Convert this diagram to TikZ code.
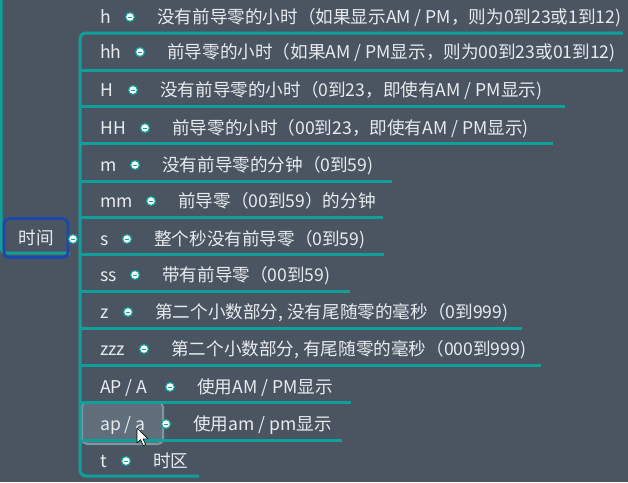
\documentclass[tikz,border=0pt]{standalone}
\usepackage{fontspec}
\setmainfont{Noto Sans CJK SC}
\definecolor{bg}{RGB}{75,85,98}
\definecolor{tealb}{RGB}{16,160,156}
\definecolor{txt}{RGB}{232,235,238}
\definecolor{rootblue}{RGB}{28,72,172}
\definecolor{selfill}{RGB}{112,128,142}
\definecolor{selborder}{RGB}{130,148,160}
\newcommand\mmrow[8]{%
  \node[lbl] (l#1) at (100,#5) {#2};
  \node[bullet] (d#1) at (#3,#5) {};
  \node[lbl] (t#1) at (#4,#5) {#8};
  \coordinate (u#1) at (80,#6);
  \coordinate (e#1) at (#7,#6);
}
\begin{document}
\begin{tikzpicture}[x=1pt,y=-1pt,
  lbl/.style={anchor=west, inner sep=0pt, text=txt, font=\fontsize{17.6}{20}\selectfont, text height=14pt, text depth=2pt},
  bullet/.style={circle, draw=tealb, line width=1.2pt, fill=white, minimum size=9pt, inner sep=0pt,
    path picture={\draw[tealb, line width=0.8pt] ([xshift=-1.6pt]path picture bounding box.center) -- ([xshift=1.6pt]path picture bounding box.center);}},
  branch/.style={draw=tealb, line width=3pt},
  rootbox/.style={draw=rootblue, line width=2.8pt, rounded corners=5pt, minimum width=64pt, minimum height=39pt, inner sep=0pt, text=txt, font=\fontsize{17.6}{20}\selectfont},
  selbox/.style={fill=selfill, fill opacity=0.6, draw=selborder, line width=2pt, rounded corners=5pt},
  cursor/.style={fill=white, draw=black, line width=0.6pt, line join=round}
]
\fill[bg] (0,0) rectangle (628,482);
\useasboundingbox (0,0) rectangle (628,482);

% selection highlight (behind text)
\draw[selbox] (82,402) rectangle (163,444);

% root
\coordinate (p0) at (1,0);
\coordinate (p1) at (1,253);
\coordinate (p2) at (70,253);
\draw[branch, rounded corners=5pt] (p0) -- (p1) -- (p2);
\node[rootbox] (root) at (36,238) {时间};
\node[bullet] (droot) at (73,239) {};

\mmrow{1}{h}{130}{157}{17}{33}{623}{没有前导零的小时（如果显示AM / PM，则为0到23或1到12)}
\mmrow{2}{hh}{140}{167}{52}{70}{623}{前导零的小时（如果AM / PM显示，则为00到23或01到12)}
\mmrow{3}{H}{133}{160}{90}{106}{565}{没有前导零的小时（0到23，即使有AM / PM显示)}
\mmrow{4}{HH}{145}{172}{128}{143}{553}{前导零的小时（00到23，即使有AM / PM显示)}
\mmrow{5}{m}{135}{162}{165}{181}{392}{没有前导零的分钟（0到59)}
\mmrow{6}{mm}{151}{178}{201}{217}{383}{前导零（00到59）的分钟}
\mmrow{7}{s}{127}{154}{239}{254}{384}{整个秒没有前导零（0到59)}
\mmrow{8}{ss}{135}{162}{275}{291}{350}{带有前导零（00到59)}
\mmrow{9}{z}{128}{155}{312}{328}{522}{第二个小数部分, 没有尾随零的毫秒（0到999)}
\mmrow{10}{zzz}{144}{171}{349}{365}{541}{第二个小数部分, 有尾随零的毫秒（000到999)}
\mmrow{11}{AP / A}{170}{197}{387}{402}{351}{使用AM / PM显示}
\mmrow{12}{ap / a}{166}{193}{424}{440}{342}{使用am / pm显示}
\mmrow{13}{t}{126}{153}{461}{476}{199}{时区}

% trunk with first and last branches
\draw[branch, rounded corners=6pt] (e1) -- (u1) -- (u13) -- (e13);
\foreach \i in {2,...,12} { \draw[branch] (u\i) -- (e\i); }

% mouse cursor
\coordinate (c0) at (137,428);
\draw[cursor] (c0) -- ++(0,15) -- ++(3.6,-3.4) -- ++(2.6,6) -- ++(2.4,-1) -- ++(-2.6,-5.8) -- ++(5,0) -- cycle;
\end{tikzpicture}
\end{document}
